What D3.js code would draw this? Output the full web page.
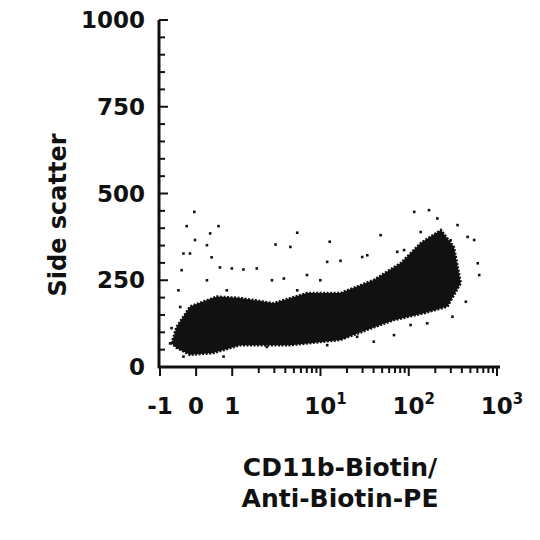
<!DOCTYPE html><html><head><meta charset="utf-8"><script src="https://cdn.jsdelivr.net/npm/d3@7"></script>
<style>body{margin:0;background:#fff}text{font-family:"DejaVu Sans",sans-serif;font-weight:700;fill:#111}</style></head><body><svg id="c" width="540" height="540"></svg><script>
// x positions in axis display units: -1→0, 0→1, 1→2, each decade = 2.444 units
const yTicks=[0,250,500,750,1000];
const xTickLabels=[["-1",null,0],["0",null,1],["1",null,2],["10","1",4.444],["10","2",6.889],["10","3",9.333]];
// dense population outline [u, sideScatter]
const denseU=[0.32,0.46,0.83,1.57,2.22,3.14,4.07,5.0,5.92,6.67,7.22,7.78,8.14,8.33,7.96,7.31,6.47,5.74,5.0,3.61,2.22,1.47,0.83,0.46];
const denseY=[68,116,174,203,199,184,213,213,251,300,357,395,346,242,174,155,135,107,78,63,63,40,35,55];
// sparse events [u, sideScatter]
const sparseU=[0.95,0.74,1.62,1.39,0.97,1.3,3.2,3.8,3.61,4.7,6.11,7.04,7.45,7.68,8.24,8.7,8.52,8.8,8.84,8.47,8.1,7.4,6.94,6.48,5.92,0.6,0.65,0.83,1.43,1.66,1.99,2.31,2.68,3.1,3.43,4.07,4.63,5.0,5.74,5.6,4.44,3.8,1.85,1.3,0.51,0.56,0.32,0.28,0.65,1.76,2.96,4.63,5.46,6.76,6.57,7.22,8.05];
const sparseY=[447,406,406,385,366,351,353,387,346,361,380,447,452,428,409,366,375,299,265,188,145,126,121,92,73,279,327,327,316,287,284,281,284,250,255,265,303,306,322,317,250,221,221,250,221,173,112,68,30,30,58,63,87,337,332,389,365];
const svg=d3.select("#c");
const x=d3.scaleLinear().domain([0,9.333]).range([160,497]);
const y=d3.scaleLinear().domain([0,1000]).range([367,20]);
const g=svg.append("g");
g.append("path").attr("d",d3.line().curve(d3.curveLinearClosed)(denseU.map((u,i)=>[x(u),y(denseY[i])]))).attr("fill","#111").attr("stroke","#111").attr("stroke-width",2.5).attr("stroke-dasharray","2,1.5");
g.selectAll("rect.s").data(sparseU).join("rect").attr("x",(u)=>x(u)-1.3).attr("y",(u,i)=>y(sparseY[i])-1.3).attr("width",2.6).attr("height",2.6).attr("fill","#111");
// axes
const ax=svg.append("g").attr("stroke","#111");
ax.append("line").attr("x1",159).attr("x2",159).attr("y1",y(1000)).attr("y2",368).attr("stroke-width",3);
ax.append("line").attr("x1",158).attr("x2",500).attr("y1",367).attr("y2",367).attr("stroke-width",3);
d3.range(0,1001,50).forEach(v=>{const maj=v%250===0;ax.append("line").attr("x1",159).attr("x2",159+(maj?9:6)).attr("y1",y(v)).attr("y2",y(v)).attr("stroke-width",2);});
yTicks.forEach(v=>svg.append("text").attr("x",145).attr("y",y(v)+8).attr("text-anchor","end").attr("font-size",23).text(v));
const minorX=[];for(let d=0;d<3;d++)for(let k=2;k<=9;k++)minorX.push(2+2.444*(d+Math.log10(k)));
minorX.forEach(u=>ax.append("line").attr("x1",x(u)).attr("x2",x(u)).attr("y1",367).attr("y2",373).attr("stroke-width",2));
xTickLabels.forEach(t=>{ax.append("line").attr("x1",x(t[2])).attr("x2",x(t[2])).attr("y1",367).attr("y2",376).attr("stroke-width",2);
 const tx=svg.append("text").attr("x",x(t[2])+(t[1]?5:0)).attr("y",414).attr("text-anchor","middle").attr("font-size",23);
 tx.append("tspan").text(t[0]); if(t[1]) tx.append("tspan").attr("dy",-10).attr("font-size",15).text(t[1]);});
svg.append("text").attr("transform","translate(66,215) rotate(-90)").attr("text-anchor","middle").attr("font-size",24).text("Side scatter");
svg.append("text").attr("x",340).attr("y",476).attr("text-anchor","middle").attr("font-size",25).text("CD11b-Biotin/");
svg.append("text").attr("x",340).attr("y",507).attr("text-anchor","middle").attr("font-size",25).text("Anti-Biotin-PE");
</script></body></html>
